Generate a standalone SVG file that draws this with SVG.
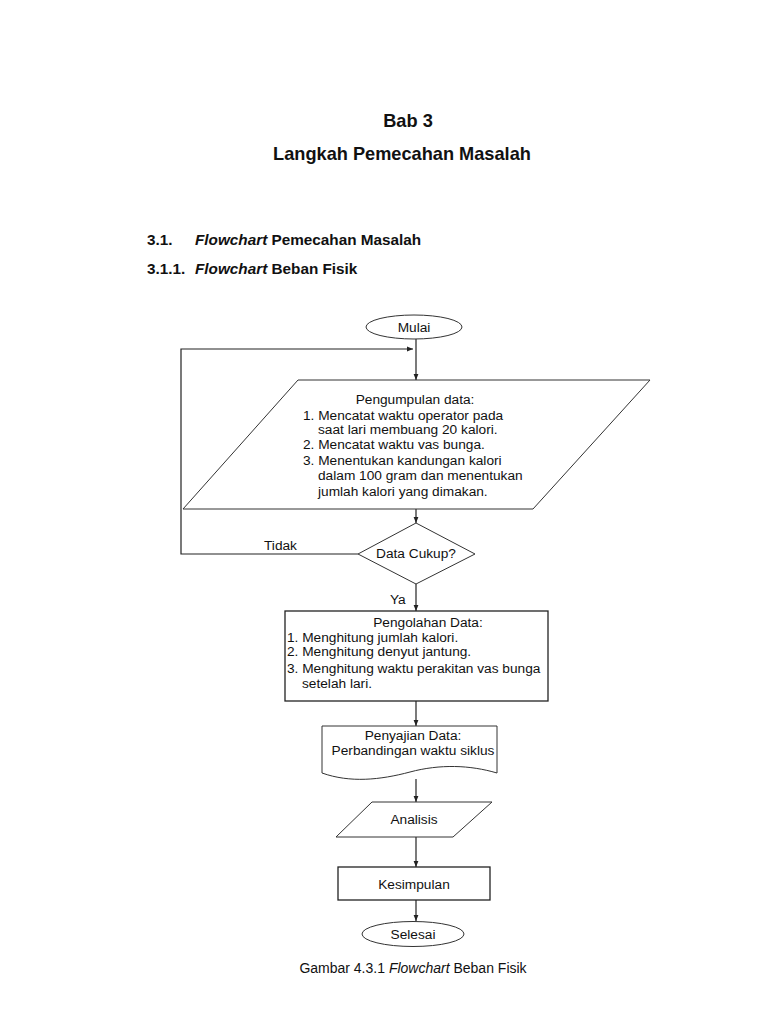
<svg xmlns="http://www.w3.org/2000/svg" width="768" height="1024" viewBox="0 0 768 1024">
<style>
.s{fill:#fff;stroke:#333;stroke-width:1}
.s2{fill:#fff;stroke:#222;stroke-width:1.3}
.t{font-family:"Liberation Sans",Arial,sans-serif;font-size:13.7px;fill:#111}
.c{text-anchor:middle}
.h{font-family:"Liberation Sans",Arial,sans-serif;font-weight:bold;fill:#111}
.ln{fill:none;stroke:#222;stroke-width:1.2}
</style>
<defs>
<marker id="ah" viewBox="0 0 10 10" refX="10" refY="5" markerWidth="6" markerHeight="6" orient="auto" markerUnits="userSpaceOnUse">
<path d="M0,1 L10,5 L0,9 z" fill="#222"/>
</marker>
</defs>
<rect width="768" height="1024" fill="#fff"/>
<g id="headings">
<text class="h" x="408" y="127" font-size="18.2" text-anchor="middle">Bab 3</text>
<text class="h" x="402" y="160" font-size="18.2" text-anchor="middle">Langkah Pemecahan Masalah</text>
<text class="h" x="147" y="245" font-size="15.3">3.1.</text>
<text class="h" x="195" y="245" font-size="15.3"><tspan font-style="italic">Flowchart</tspan> Pemecahan Masalah</text>
<text class="h" x="147" y="274" font-size="15.3">3.1.1.</text>
<text class="h" x="195" y="274" font-size="15.3"><tspan font-style="italic">Flowchart</tspan> Beban Fisik</text>
</g>
<g id="connectors">
<line class="ln" x1="416" y1="339" x2="416" y2="380" marker-end="url(#ah)"/>
<polyline class="ln" points="358,554 181,554 181,349 413,349" marker-end="url(#ah)"/>
<line class="ln" x1="416" y1="509" x2="416" y2="523" marker-end="url(#ah)"/>
<line class="ln" x1="416" y1="584" x2="416" y2="611" marker-end="url(#ah)"/>
<line class="ln" x1="416" y1="701" x2="416" y2="726" marker-end="url(#ah)"/>
<line class="ln" x1="416" y1="779" x2="416" y2="802" marker-end="url(#ah)"/>
<line class="ln" x1="416" y1="837" x2="416" y2="867" marker-end="url(#ah)"/>
<line class="ln" x1="416" y1="900" x2="416" y2="921" marker-end="url(#ah)"/>
<text class="t" x="264" y="550">Tidak</text>
<text class="t" x="390" y="604">Ya</text>
</g>
<g id="mulai">
<ellipse class="s" cx="414" cy="327" rx="48" ry="12"/>
<text class="t c" x="414" y="332">Mulai</text>
</g>
<g id="pengumpulan">
<polygon class="s" points="298,380 650,380 533,509 183,509"/>
<text class="t c" x="415" y="404">Pengumpulan data:</text>
<text class="t" x="303" y="420">1. Mencatat waktu operator pada</text>
<text class="t" x="318" y="434">saat lari membuang 20 kalori.</text>
<text class="t" x="303" y="449">2. Mencatat waktu vas bunga.</text>
<text class="t" x="303" y="465">3. Menentukan kandungan kalori</text>
<text class="t" x="318" y="480">dalam 100 gram dan menentukan</text>
<text class="t" x="318" y="496">jumlah kalori yang dimakan.</text>
</g>
<g id="cukup">
<polygon class="s" points="416,523 475,554 416,584 358,554"/>
<text class="t c" x="416" y="558">Data Cukup?</text>
</g>
<g id="pengolahan">
<rect class="s2" x="285" y="611" width="263" height="90"/>
<text class="t c" x="428" y="627">Pengolahan Data:</text>
<text class="t" x="287" y="642">1. Menghitung jumlah kalori.</text>
<text class="t" x="287" y="656">2. Menghitung denyut jantung.</text>
<text class="t" x="287" y="673">3. Menghitung waktu perakitan vas bunga</text>
<text class="t" x="302" y="688">setelah lari.</text>
</g>
<g id="penyajian">
<path class="s" d="M322,726 L497,726 L497,773 C470,765 440,764 410,772 C380,780 350,783 322,773 Z"/>
<text class="t c" x="413" y="740">Penyajian Data:</text>
<text class="t c" x="413" y="755">Perbandingan waktu siklus</text>
</g>
<g id="analisis">
<polygon class="s" points="372,802 492,802 453,837 336,837"/>
<text class="t c" x="414" y="824">Analisis</text>
</g>
<g id="kesimpulan">
<rect class="s2" x="338" y="867" width="152" height="33"/>
<text class="t c" x="414" y="889">Kesimpulan</text>
</g>
<g id="selesai">
<ellipse class="s" cx="413" cy="934" rx="51" ry="12.5"/>
<text class="t c" x="413" y="939">Selesai</text>
</g>
<text x="413" y="973" font-family="Liberation Sans,Arial,sans-serif" font-size="14" fill="#111" text-anchor="middle">Gambar 4.3.1 <tspan font-style="italic">Flowchart</tspan> Beban Fisik</text>
</svg>
